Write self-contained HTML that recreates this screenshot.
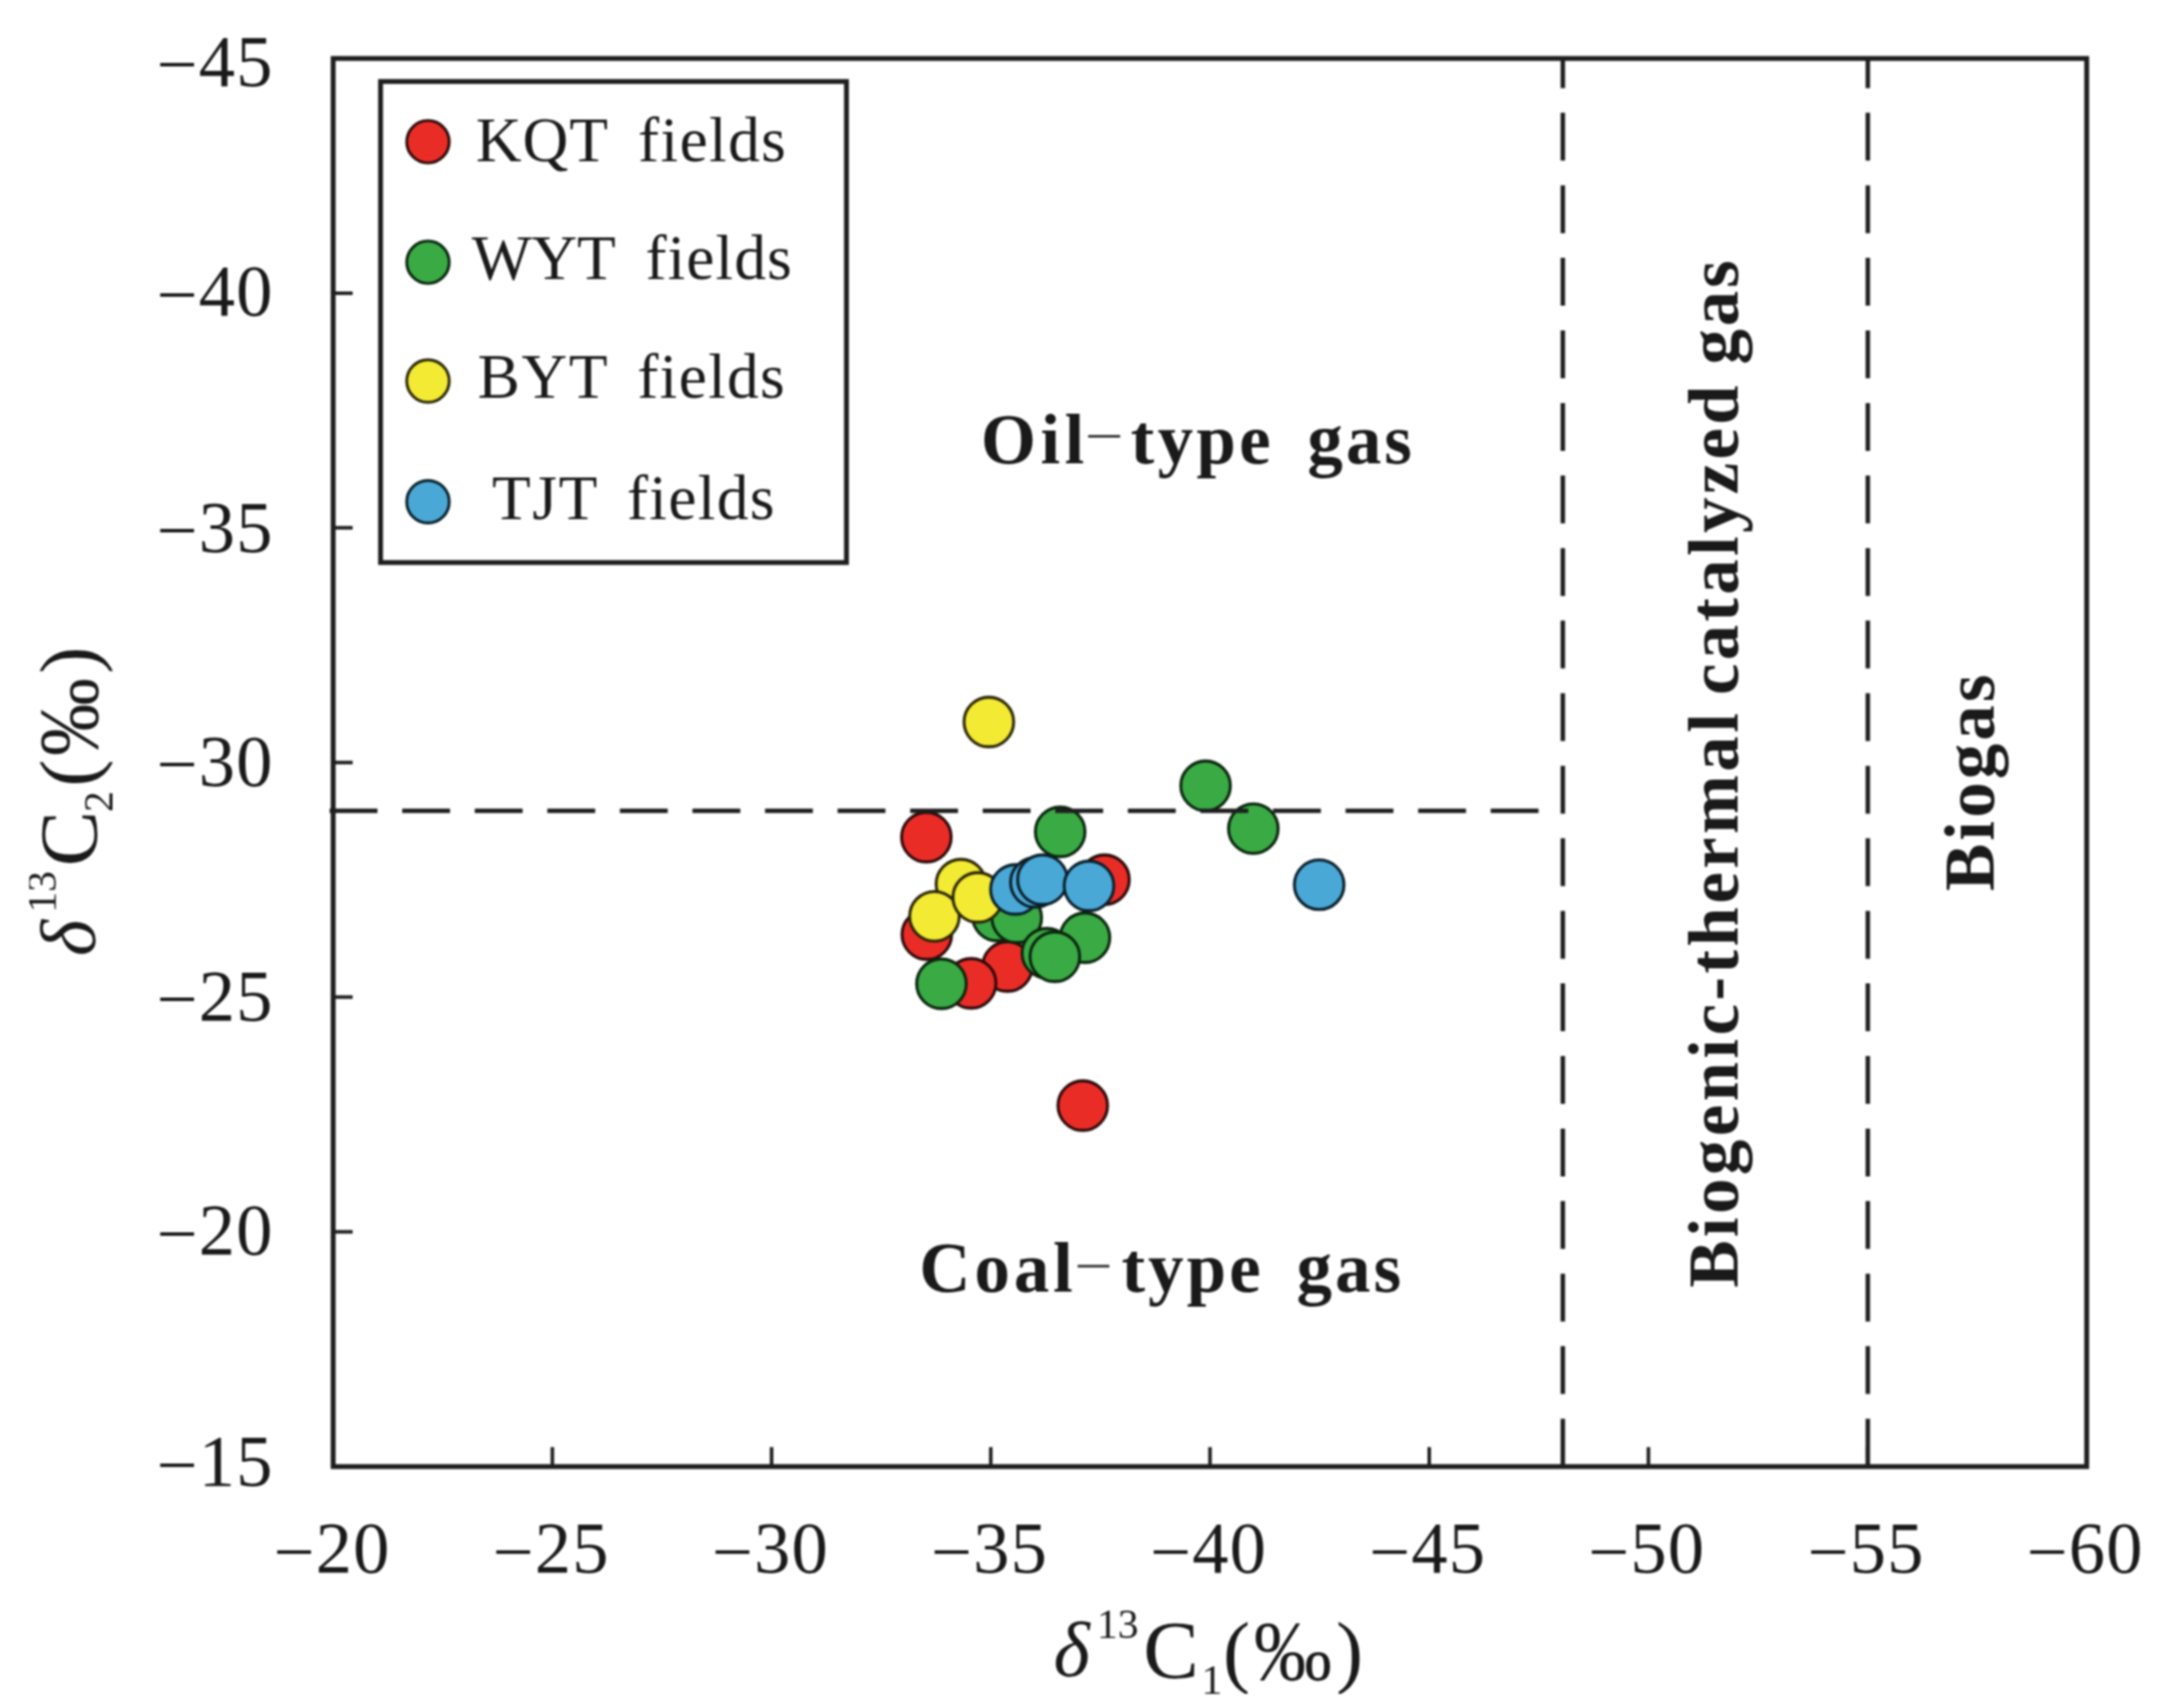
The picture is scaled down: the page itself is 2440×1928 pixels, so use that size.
<!DOCTYPE html><html><head><meta charset="utf-8"><title>δ13C1 vs δ13C2 gas origin diagram</title><style>html,body{margin:0;padding:0;background:#fff}svg{display:block;filter:blur(1.2px)}</style></head><body>
<svg width="2440" height="1928" viewBox="0 0 2440 1928" font-family="'Liberation Serif', 'Times New Roman', serif">
<rect x="0" y="0" width="2440" height="1928" fill="#fff"/>
<path d="M376 330.9H398 M376 595.8H398 M376 860.7H398 M376 1125.6H398 M376 1390.5H398 M623.4 1655.5V1633.5 M870.8 1655.5V1633.5 M1118.2 1655.5V1633.5 M1365.6 1655.5V1633.5 M1613.0 1655.5V1633.5 M1860.4 1655.5V1633.5 M2107.8 1655.5V1633.5" stroke="#1e1e1e" stroke-width="4" fill="none"/>
<g fill="#EA2C27" stroke="#2a0a0a" stroke-width="3.3"><circle cx="1045.5" cy="945" r="28"/><circle cx="1046" cy="1055" r="28"/><circle cx="1137" cy="1091" r="28"/><circle cx="1096" cy="1110" r="28"/><circle cx="1246.5" cy="993" r="28"/><circle cx="1222" cy="1248" r="28"/></g>
<g fill="#3AAA45" stroke="#0a240d" stroke-width="3.3"><circle cx="1196.5" cy="939" r="28"/><circle cx="1125.5" cy="1034" r="28"/><circle cx="1147.5" cy="1036" r="28"/><circle cx="1224.5" cy="1058.5" r="28"/><circle cx="1181.5" cy="1076" r="28"/><circle cx="1190.5" cy="1080" r="28"/><circle cx="1062.5" cy="1110.5" r="28"/><circle cx="1360.6" cy="887" r="28"/><circle cx="1414.5" cy="935.4" r="28"/></g>
<g fill="#F3EA33" stroke="#2a2606" stroke-width="3.3"><circle cx="1116" cy="815" r="28"/><circle cx="1084.5" cy="998" r="28"/><circle cx="1054.6" cy="1034.3" r="28"/><circle cx="1103.5" cy="1013" r="28"/></g>
<g fill="#4AA8D6" stroke="#0a1f2a" stroke-width="3.3"><circle cx="1146" cy="1004" r="28"/><circle cx="1168.5" cy="996" r="28"/><circle cx="1176.5" cy="993" r="28"/><circle cx="1229" cy="1000" r="28"/><circle cx="1488.8" cy="998.7" r="28"/></g>
<path d="M372 915.2H1738" stroke="#1e1e1e" stroke-width="5" stroke-dasharray="54 27.9" fill="none"/>
<path d="M1763.8 1655.5V66 M2108 1655.5V66" stroke="#1e1e1e" stroke-width="5" stroke-dasharray="54 27.9" fill="none"/>
<rect x="376" y="66" width="1979" height="1589.5" fill="none" stroke="#1e1e1e" stroke-width="5.5"/>
<rect x="429.5" y="92" width="525.8" height="543" fill="#fff" stroke="#1e1e1e" stroke-width="5.5"/>
<g fill="#1a1a1a">
<circle cx="483" cy="160" r="24" fill="#EA2C27" stroke="#2a0a0a" stroke-width="3.2"/>
<text x="537" y="181.7" font-size="71.5" letter-spacing="1.15">KQT</text>
<text x="720.1" y="181.7" font-size="71.5" letter-spacing="1.58">fields</text>
<circle cx="483" cy="296" r="24" fill="#3AAA45" stroke="#0a240d" stroke-width="3.2"/>
<text x="532.5" y="315" font-size="71.5" letter-spacing="-0.15">WYT</text>
<text x="728.5" y="315" font-size="71.5" letter-spacing="1.22">fields</text>
<circle cx="483" cy="430.1" r="24" fill="#F3EA33" stroke="#2a2606" stroke-width="3.2"/>
<text x="539" y="448.5" font-size="71.5" letter-spacing="1.8">BYT</text>
<text x="719.3" y="448.5" font-size="71.5" letter-spacing="1.48">fields</text>
<circle cx="483" cy="566.4" r="24" fill="#4AA8D6" stroke="#0a1f2a" stroke-width="3.2"/>
<text x="555.3" y="585.5" font-size="71.5" letter-spacing="1.9">TJT</text>
<text x="707.4" y="585.5" font-size="71.5" letter-spacing="1.58">fields</text>
<text x="176.8" y="96.6" font-size="82" letter-spacing="1.25"><tspan dy="3.8">−</tspan><tspan dy="-3.8">45</tspan></text>
<text x="176.8" y="355.9" font-size="82" letter-spacing="1.25"><tspan dy="3.8">−</tspan><tspan dy="-3.8">40</tspan></text>
<text x="176.8" y="622.5" font-size="82" letter-spacing="1.25"><tspan dy="3.8">−</tspan><tspan dy="-3.8">35</tspan></text>
<text x="176.8" y="886.6" font-size="82" letter-spacing="1.25"><tspan dy="3.8">−</tspan><tspan dy="-3.8">30</tspan></text>
<text x="176.8" y="1151.6" font-size="82" letter-spacing="1.25"><tspan dy="3.8">−</tspan><tspan dy="-3.8">25</tspan></text>
<text x="176.8" y="1416.3" font-size="82" letter-spacing="1.25"><tspan dy="3.8">−</tspan><tspan dy="-3.8">20</tspan></text>
<text x="176.8" y="1677" font-size="82" letter-spacing="1.25"><tspan dy="3.8">−</tspan><tspan dy="-3.8">15</tspan></text>
<text x="308.8" y="1775" font-size="82" letter-spacing="1.25"><tspan dy="3.8">−</tspan><tspan dy="-3.8">20</tspan></text>
<text x="556.1" y="1775" font-size="82" letter-spacing="1.25"><tspan dy="3.8">−</tspan><tspan dy="-3.8">25</tspan></text>
<text x="803.4" y="1775" font-size="82" letter-spacing="1.25"><tspan dy="3.8">−</tspan><tspan dy="-3.8">30</tspan></text>
<text x="1050.7" y="1775" font-size="82" letter-spacing="1.25"><tspan dy="3.8">−</tspan><tspan dy="-3.8">35</tspan></text>
<text x="1298.0" y="1775" font-size="82" letter-spacing="1.25"><tspan dy="3.8">−</tspan><tspan dy="-3.8">40</tspan></text>
<text x="1545.3" y="1775" font-size="82" letter-spacing="1.25"><tspan dy="3.8">−</tspan><tspan dy="-3.8">45</tspan></text>
<text x="1792.6" y="1775" font-size="82" letter-spacing="1.25"><tspan dy="3.8">−</tspan><tspan dy="-3.8">50</tspan></text>
<text x="2039.9" y="1775" font-size="82" letter-spacing="1.25"><tspan dy="3.8">−</tspan><tspan dy="-3.8">55</tspan></text>
<text x="2287.2" y="1775" font-size="82" letter-spacing="1.25"><tspan dy="3.8">−</tspan><tspan dy="-3.8">60</tspan></text>
<text x="1107.1" y="523" font-size="80" font-weight="bold" letter-spacing="4.95">Oil</text>
<text x="1276.1" y="523" font-size="80" font-weight="bold" letter-spacing="3.733">type</text>
<text x="1475.5" y="523" font-size="80" font-weight="bold" letter-spacing="3.4">gas</text>
<text x="1037.6" y="1458" font-size="80" font-weight="bold" letter-spacing="4.4">Coal</text>
<text x="1265.8" y="1458" font-size="80" font-weight="bold" letter-spacing="3.4">type</text>
<text x="1463.3" y="1458" font-size="80" font-weight="bold" letter-spacing="3.5">gas</text>
</g>
<path d="M1228.1 492.6H1264.2M1216.2 1429.3H1252" stroke="#333" stroke-width="3" fill="none"/>
<g fill="#1a1a1a" transform="translate(1960.5 1452.6) rotate(-90)"><text x="-1" y="0" font-size="80" font-weight="bold" letter-spacing="3.853">Biogenic-thermal</text><text x="668" y="0" font-size="80" font-weight="bold" letter-spacing="3.725">catalyzed</text><text x="1041.1" y="0" font-size="80" font-weight="bold" letter-spacing="3.25">gas</text></g>
<g fill="#1a1a1a" transform="translate(2250 1005.8) rotate(-90)"><text x="0" y="0" font-size="80" font-weight="bold" letter-spacing="3.56">Biogas</text></g>
<g fill="#1a1a1a" transform="translate(1192 1893.5)"><text x="-3" y="-1.1" font-size="88" font-style="italic">δ</text><text x="46" y="-44.9" font-size="47">13</text><text x="98.2" y="0.8" font-size="94">C</text><text x="163.9" y="18.9" font-size="47">1</text><text x="188.2" y="0.3" font-size="92">(</text><g transform="translate(225 0) scale(0.924 1)"><text x="-2" y="2.1" font-size="95">‰</text></g><text x="315.7" y="0.3" font-size="92">)</text></g>
<g fill="#1a1a1a" transform="translate(107.7 1076.3) rotate(-90)"><text x="-3" y="-1.1" font-size="88" font-style="italic">δ</text><text x="46" y="-44.9" font-size="47">13</text><text x="98.2" y="0.8" font-size="94">C</text><text x="159.9" y="18.9" font-size="47">2</text><text x="188.2" y="0.3" font-size="92">(</text><g transform="translate(225 0) scale(0.924 1)"><text x="-2" y="2.1" font-size="95">‰</text></g><text x="315.7" y="0.3" font-size="92">)</text></g>
<rect x="0" y="1912" width="2440" height="16" fill="#fff"/>
<rect x="0" y="0" width="33" height="1928" fill="#fff"/>
</svg></body></html>
